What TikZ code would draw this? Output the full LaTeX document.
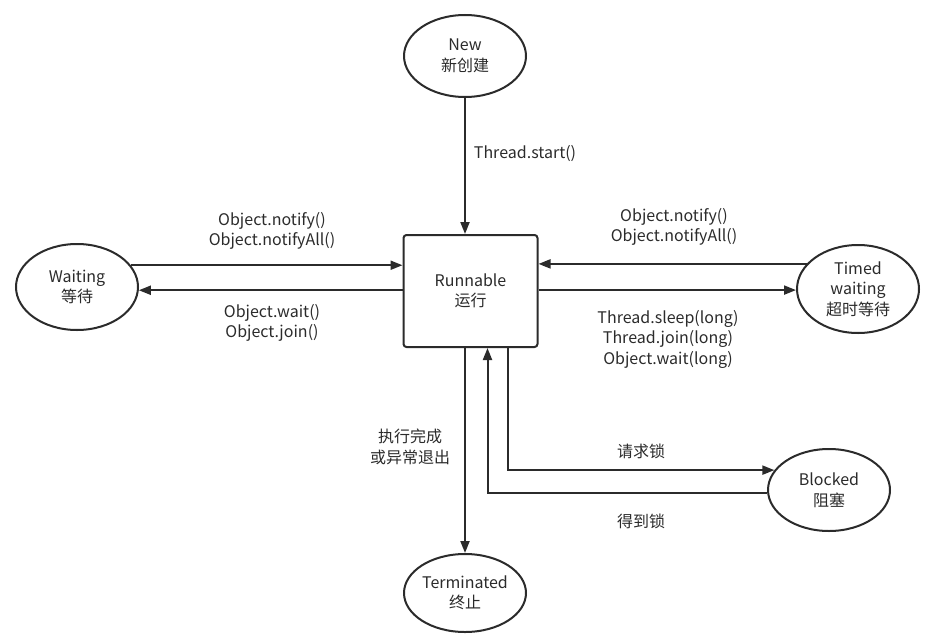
\documentclass[tikz,border=0pt]{standalone}
\usepackage{fontspec}
\setmainfont{Noto Sans CJK SC}
\usetikzlibrary{shapes.geometric,arrows.meta,calc}
\definecolor{ink}{HTML}{2B2B2B}
\begin{document}
\begin{tikzpicture}[x=1pt,y=-1pt,
  every node/.style={text=ink,font=\fontsize{16}{20.5}\selectfont},
  state/.style={ellipse,draw=ink,line width=2pt,inner sep=0pt,align=center,fill=white},
  runbox/.style={rectangle,rounded corners=3pt,draw=ink,line width=2pt,align=center,minimum width=134pt,minimum height=112pt,fill=white},
  arr/.style={draw=ink,line width=2pt,-{Triangle[length=12pt,width=9pt]}},
  lbl/.style={align=center,inner sep=0pt}]
\useasboundingbox (0,0) rectangle (936,642);
\node[state,minimum width=122pt,minimum height=82pt] (new) at (465,56) {New\\新创建};
\node[runbox] (run) at (470.5,291) {Runnable\\运行};
\node[state,minimum width=122pt,minimum height=86pt] (wait) at (77,287) {Waiting\\等待};
\node[state,minimum width=122pt,minimum height=88pt] (timed) at (858,289) {Timed\\waiting\\超时等待};
\node[state,minimum width=122pt,minimum height=82pt] (block) at (829,490) {Blocked\\阻塞};
\node[state,minimum width=122pt,minimum height=78pt] (term) at (465,593) {Terminated\\终止};

\draw[arr] (new) -- (new |- run.north);
\draw[arr] (run.south -| term) -- (term);
\draw[arr] (wait.22) -- (wait.22 -| run.west);
\draw[arr] (run.west |- wait.-3) -- (wait.-3);
\draw[arr] (timed.154) -- (timed.154 -| run.east);
\draw[arr] (run.east |- timed.181) -- (timed.181);
\draw[arr] ([xshift=37pt]run.south) |- (block.160);
\draw[arr] (block.183) -| ([xshift=17pt]run.south);

\node[lbl] (l1) at (525,154) {Thread.start()};
\node[lbl] (l2) at (272,231) {Object.notify()\\Object.notifyAll()};
\node[lbl] (l3) at (272,323) {Object.wait()\\Object.join()};
\node[lbl] (l4) at (674,227) {Object.notify()\\Object.notifyAll()};
\node[lbl] (l5) at (668,339) {Thread.sleep(long)\\Thread.join(long)\\Object.wait(long)};
\node[lbl] (l6) at (410,447) {执行完成\\或异常退出};
\node[lbl] (l7) at (641,451) {请求锁};
\node[lbl] (l8) at (641,521) {得到锁};
\end{tikzpicture}
\end{document}
